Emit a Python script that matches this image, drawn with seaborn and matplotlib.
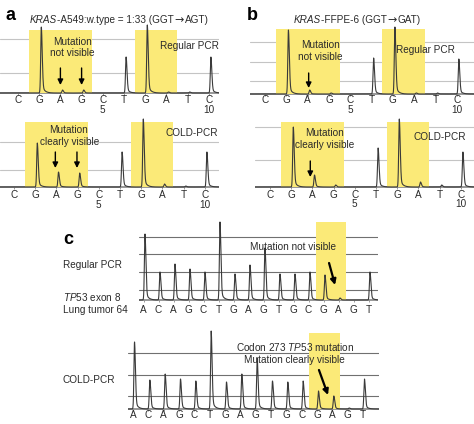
import numpy as np
import matplotlib
matplotlib.use("Agg")
import matplotlib.pyplot as plt
from matplotlib.offsetbox import TextArea, HPacker, AnnotationBbox
import seaborn as sns

# =============================================================================
# Data (peak heights in px above the trace baseline)
# =============================================================================
kras_bases = list("CGAGCTGATC")
tp53_bases = list("ACAGCTGAGTGCGAGT")

a_regular = [0, 66, 3, 3, 0, 36, 68, 1, 1, 36]
a_cold = [0, 44, 15, 14, 0, 35, 68, 3, 1, 35]
b_regular = [0, 64, 4, 1, 0, 36, 67, 1, 1, 35]
b_cold = [0, 60, 12, 2, 0, 39, 68, 5, 2, 35]
c_regular = [66, 28, 36, 31, 28, 78, 26, 35, 52, 26, 26, 28, 25, 2, 0, 28]
c_cold = [67, 29, 35, 30, 28, 78, 27, 35, 51, 28, 27, 28, 18, 13, 1, 30]

# horizontal guide lines of each trace
a_regular_grid = [20, 54]
a_cold_grid = [17, 45]
b_regular_grid = [13, 32, 52]
b_cold_grid = [27, 60]
c_regular_grid = [10, 28, 46, 63]
c_cold_grid = [13, 34, 56]

# highlighted base ranges (first, last index)
kras_highlight = [(1, 3), (6, 7)]
tp53_highlight = [(12, 13)]
kras_numbers = {4: "5", 9: "10"}

W, H = 474, 424
YELLOW = "#fbea78"
TXT = "#2a2a2a"

sns.set_theme(style="white")
plt.rcParams["font.family"] = ["Liberation Sans", "DejaVu Sans"]
plt.rcParams["mathtext.fontset"] = "custom"
plt.rcParams["mathtext.rm"] = "Liberation Sans"
plt.rcParams["mathtext.it"] = "Liberation Sans:italic"

fig = plt.figure(figsize=(W / 100, H / 100), dpi=100)
fig.patch.set_facecolor("white")


def label(x, y, s, size=7.2, ha="center", **kw):
    fig.text(x / W, 1 - y / H, s, ha=ha, va="center", fontsize=size, color=TXT, **kw)


def title_label(x, y, gene, middle, result):
    # italic gene name + text + wide arrow (DejaVu) + result, packed on one baseline
    base = dict(fontsize=7.2, color=TXT)
    parts = [
        TextArea(gene, textprops=dict(base, fontstyle="italic")),
        TextArea(middle, textprops=base),
        TextArea("\u2192", textprops=dict(base, family="DejaVu Sans", fontsize=8)),
        TextArea(result, textprops=base),
    ]
    pack = HPacker(children=parts, sep=0.5, pad=0, align="baseline")
    fig.add_artist(AnnotationBbox(pack, (x / W, 1 - y / H), xycoords="figure fraction",
                                  frameon=False, box_alignment=(0.5, 0.5), pad=0))


def panel_letter(x, y, s):
    fig.text(x / W, 1 - y / H, s, ha="center", va="center", fontsize=13,
             fontweight="bold", color="black")


def peak(d):
    # sharp rise, short tail on the right (d in px)
    rise = np.exp(-0.5 * (d / 0.6) ** 2)
    fall = 0.85 * np.exp(-0.5 * (d / 0.9) ** 2) + 0.15 * np.exp(-np.clip(d, 0, None) / 2.5)
    return np.where(d < 0, rise, fall)


def trace_axes(left, right, base_y, first, step, top=82, pad=3):
    ax = fig.add_axes([left / W, 1 - (base_y + pad) / H, (right - left) / W, (top + pad) / H])
    ax.set_xlim((left - first) / step, (right - first) / step)
    ax.set_ylim(-pad, top)
    ax.axis("off")
    return ax


def draw_trace(ax, bases, heights, grid, highlight, step, hl_top, letter_y,
               grid_color="#c4c4c4", numbers=None, number_y=None):
    for g in grid:
        ax.axhline(g, color=grid_color, lw=0.8, zorder=1)
    ax.axhline(0, color="#7a7a7a", lw=1.1, zorder=1)
    ax.vlines(np.arange(len(bases)), -1.5, 0, color="#8a8a8a", lw=0.6, zorder=1)
    for i, j in highlight:
        ax.fill_between([i - 0.5, j + 0.5], 0, hl_top, color=YELLOW, lw=0, zorder=2)
    x0, x1 = ax.get_xlim()
    xs = np.linspace(x0, x1, 4000)
    ys = np.zeros_like(xs)
    for k, h in enumerate(heights):
        ys += h * peak((xs - k - 0.1) * step)
    sns.lineplot(x=xs, y=ys, ax=ax, color="#3a3a3a", lw=0.8, estimator=None, sort=False, zorder=3)
    for k, b in enumerate(bases):
        ax.text(k, letter_y, b, ha="center", va="center", fontsize=7.2, color=TXT, clip_on=False)
    if numbers:
        for k, s in numbers.items():
            ax.text(k, number_y, s, ha="center", va="center", fontsize=7.2, color=TXT, clip_on=False)


def arrow(ax, x0, y0, x1, y1, lw=1.0, ms=8):
    ax.annotate("", xy=(x1, y1), xytext=(x0, y0),
                arrowprops=dict(arrowstyle="-|>", color="black", lw=lw, mutation_scale=ms,
                                shrinkA=0, shrinkB=0), zorder=4)


# ---- panel a
ax_a1 = trace_axes(0, 219, 93, 18, 21.2)
draw_trace(ax_a1, kras_bases, a_regular, a_regular_grid, kras_highlight, 21.2, 63, -7,
           numbers=kras_numbers, number_y=-17)
arrow(ax_a1, 2, 25, 2, 8)
arrow(ax_a1, 3, 25, 3, 8)

ax_a2 = trace_axes(0, 219, 187, 14, 21.2)
draw_trace(ax_a2, kras_bases, a_cold, a_cold_grid, kras_highlight, 21.2, 65, -8,
           numbers=kras_numbers, number_y=-18)
arrow(ax_a2, 1.95, 35, 1.95, 19)
arrow(ax_a2, 2.97, 35, 2.97, 19)

panel_letter(11, 16, "a")
title_label(119, 20, "KRAS", "-A549:w.type = 1:33 (GGT", "AGT)")
label(72, 42, "Mutation")
label(72, 53, "not visible")
label(189, 46, "Regular PCR")
label(69, 130, "Mutation")
label(70, 142, "clearly visible")
label(192, 133, "COLD-PCR")

# ---- panel b
ax_b1 = trace_axes(250, 474, 94, 265, 21.3)
draw_trace(ax_b1, kras_bases, b_regular, b_regular_grid, kras_highlight, 21.3, 65, -6,
           numbers=kras_numbers, number_y=-16)
arrow(ax_b1, 2.05, 21, 2.05, 6)

ax_b2 = trace_axes(255, 474, 187, 270, 21.2)
draw_trace(ax_b2, kras_bases, b_cold, b_cold_grid, kras_highlight, 21.2, 65, -8,
           numbers=kras_numbers, number_y=-17)
arrow(ax_b2, 1.9, 26, 1.9, 10)

panel_letter(252, 16, "b")
title_label(357, 20, "KRAS", "-FFPE-6 (GGT", "GAT)")
label(320, 45, "Mutation")
label(320, 57, "not visible")
label(425, 50, "Regular PCR")
label(325, 133, "Mutation")
label(325, 145, "clearly visible")
label(440, 137, "COLD-PCR")

# ---- panel c
ax_c1 = trace_axes(139, 378, 300, 143.5, 15.0)
draw_trace(ax_c1, tp53_bases, c_regular, c_regular_grid, tp53_highlight, 15.0, 78, -10,
           grid_color="#707070")
arrow(ax_c1, 12.37, 37, 12.77, 15, lw=1.6, ms=8)

ax_c2 = trace_axes(128, 379, 409, 133, 15.33)
draw_trace(ax_c2, tp53_bases, c_cold, c_cold_grid, tp53_highlight, 15.33, 76, -6,
           grid_color="#707070")
arrow(ax_c2, 12.13, 39, 12.72, 14, lw=1.6, ms=8)

panel_letter(68, 240, "c")
label(63, 265, "Regular PCR", ha="left")
label(63, 297, "$\\mathit{TP53}$ exon 8", ha="left")
label(63, 310, "Lung tumor 64", ha="left")
label(293, 247, "Mutation not visible")
label(63, 380, "COLD-PCR", ha="left")
label(295, 347, "Codon 273 $\\mathit{TP53}$ mutation")
label(294, 360, "Mutation clearly visible")

fig.savefig("out.png", dpi=100, facecolor="white")
